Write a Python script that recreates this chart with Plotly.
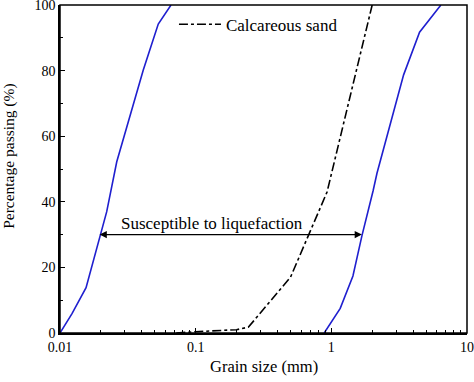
import numpy as np
import plotly.graph_objects as go

# Lower bound of liquefiable range (left blue curve)
lower_size = [0.01, 0.01226, 0.01556, 0.0221, 0.0262, 0.0411, 0.053, 0.0658]
lower_pass = [0, 5.9, 13.8, 37, 52.2, 80.2, 94.2, 100]

# Upper bound of liquefiable range (right blue curve)
upper_size = [0.886, 1.163, 1.443, 1.68, 2.03, 2.17, 3.41, 4.47, 6.42]
upper_pass = [0, 7.5, 17.4, 29.6, 43.3, 48.7, 78.7, 91.7, 100]

# Calcareous sand gradation
calc_size = [0.072, 0.1, 0.2, 0.245, 0.5, 0.93, 2.0]
calc_pass = [0, 0.4, 1.0, 1.8, 17, 43, 100]

arrow_y = 30
arrow_x = [0.0191, 1.68]
label_x = 0.132

xtick_vals = [0.01, 0.1, 1, 10]
xtick_text = ["0.01", "0.1", "1", "10"]
xminor_vals = [m * d for d in [0.01, 0.1, 1] for m in range(2, 10)]
ytick_vals = [0, 20, 40, 60, 80, 100]
yminor_vals = [10, 30, 50, 70, 90]

blue = "#1f1fcf"
font = "Times New Roman"

fig = go.Figure()
fig.add_trace(go.Scatter(x=lower_size, y=lower_pass, mode="lines",
                         line=dict(color=blue, width=1.6), showlegend=False))
fig.add_trace(go.Scatter(x=upper_size, y=upper_pass, mode="lines",
                         line=dict(color=blue, width=1.6), showlegend=False))
fig.add_trace(go.Scatter(x=calc_size, y=calc_pass, mode="lines", name="Calcareous sand",
                         line=dict(color="black", width=1.6, dash="dashdot")))

fig.add_annotation(x=np.log10(arrow_x[1]), y=arrow_y, ax=np.log10(arrow_x[0]), ay=arrow_y,
                   xref="x", yref="y", axref="x", ayref="y", text="",
                   showarrow=True, arrowhead=2, arrowside="end+start",
                   arrowsize=1.2, arrowwidth=1.2, arrowcolor="black", standoff=0, startstandoff=0)
fig.add_annotation(x=np.log10(label_x), y=arrow_y, xref="x", yref="y", yshift=11,
                   text="Susceptible to liquefaction", showarrow=False,
                   font=dict(size=17, color="black", family=font))

# axis titles
fig.add_annotation(x=0.5, y=0, xref="paper", yref="paper", yanchor="middle", yshift=-33,
                   text="Grain size (mm)", showarrow=False,
                   font=dict(size=16.5, color="black", family=font))
fig.add_annotation(x=0, y=0.537, xref="paper", yref="paper", xanchor="center", xshift=-51,
                   text="Percentage passing (%)", showarrow=False, textangle=-90,
                   font=dict(size=15.5, color="black", family=font))

# frame
fig.add_shape(type="rect", xref="paper", yref="paper", x0=0, y0=0, x1=1, y1=1,
              line=dict(color="black", width=1.5), fillcolor="rgba(0,0,0,0)", layer="above")

fig.update_layout(
    width=474, height=382,
    margin=dict(l=60, r=7, t=5, b=49, autoexpand=False),
    plot_bgcolor="white", paper_bgcolor="white",
    font=dict(family=font, size=14, color="black"),
    legend=dict(x=0.28, y=0.995, xanchor="left", yanchor="top", itemwidth=42,
                bgcolor="rgba(0,0,0,0)", font=dict(size=17, family=font)),
)
fig.update_xaxes(type="log", range=[-2, 1], tickmode="array", tickvals=xtick_vals, ticktext=xtick_text,
                 ticks="inside", ticklen=5, tickwidth=1.2, tickcolor="black",
                 minor=dict(ticks="inside", ticklen=3, tickwidth=1, tickcolor="black",
                            tickmode="array", tickvals=xminor_vals, showgrid=False),
                 showline=True, linecolor="black", linewidth=1.5, ticklabeloverflow="allow",
                 showgrid=False, zeroline=False, automargin=False)
fig.update_yaxes(range=[0, 100], tickmode="array", tickvals=ytick_vals,
                 ticks="inside", ticklen=5, tickwidth=1.2, tickcolor="black",
                 minor=dict(ticks="inside", ticklen=3, tickwidth=1, tickcolor="black",
                            tickmode="array", tickvals=yminor_vals, showgrid=False),
                 showline=True, linecolor="black", linewidth=1.5, ticklabeloverflow="allow",
                 showgrid=False, zeroline=False, automargin=False)

fig.write_html("out.html", config={"displayModeBar": False},
               post_script="document.body.style.margin='0px';")
